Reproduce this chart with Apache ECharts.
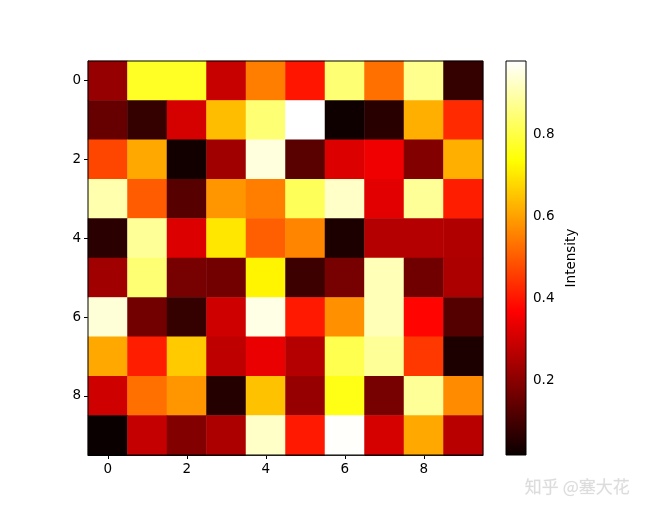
<!DOCTYPE html>
<html>
<head>
<meta charset="utf-8">
<script src="https://cdn.jsdelivr.net/npm/echarts@6/dist/echarts.min.js"></script>
<style>html,body{margin:0;padding:0;background:#fff}#c{width:646px;height:511px}</style>
</head>
<body>
<div id="c"></div>
<script>
const xCategories = ['0','1','2','3','4','5','6','7','8','9'];
const yCategories = ['0','1','2','3','4','5','6','7','8','9'];
const row0 = [0.22, 0.77, 0.77, 0.29, 0.55, 0.40, 0.845, 0.53, 0.87, 0.08];
const row1 = [0.15, 0.08, 0.31, 0.64, 0.845, 0.978, 0.025, 0.063, 0.62, 0.43];
const row2 = [0.47, 0.61, 0.03, 0.235, 0.945, 0.133, 0.32, 0.348, 0.19, 0.62];
const row3 = [0.90, 0.50, 0.13, 0.585, 0.55, 0.82, 0.925, 0.33, 0.88, 0.41];
const row4 = [0.065, 0.88, 0.32, 0.70, 0.505, 0.56, 0.045, 0.263, 0.263, 0.258];
const row5 = [0.235, 0.845, 0.176, 0.17, 0.72, 0.09, 0.176, 0.91, 0.165, 0.25];
const row6 = [0.94, 0.17, 0.08, 0.30, 0.955, 0.406, 0.577, 0.91, 0.375, 0.125];
const row7 = [0.61, 0.41, 0.66, 0.277, 0.34, 0.263, 0.81, 0.88, 0.45, 0.045];
const row8 = [0.30, 0.53, 0.585, 0.058, 0.647, 0.22, 0.754, 0.176, 0.88, 0.57];
const row9 = [0.02, 0.285, 0.19, 0.25, 0.925, 0.405, 0.975, 0.31, 0.61, 0.27];
const colorbarTicks = [0.2, 0.4, 0.6, 0.8];
const vMin = 0.02, vMax = 0.978;

const rows = [row0,row1,row2,row3,row4,row5,row6,row7,row8,row9];
const data = [];
rows.forEach((r, y) => r.forEach((v, x) => data.push([x, y, v])));

// matplotlib 'hot' colormap
function hot(t){
  let r, g, b;
  r = t < 0.365079 ? 0.0416 + (1 - 0.0416) * t / 0.365079 : 1;
  g = t < 0.365079 ? 0 : (t < 0.746032 ? (t - 0.365079) / (0.746032 - 0.365079) : 1);
  b = t < 0.746032 ? 0 : (t - 0.746032) / (1 - 0.746032);
  const h = c => Math.round(Math.max(0, Math.min(1, c)) * 255).toString(16).padStart(2, '0');
  return '#' + h(r) + h(g) + h(b);
}
const N = 128;
const cmap = [];
const stops = [];
for (let i = 0; i <= N; i++) { cmap.push(hot(i / N)); stops.push({offset: i / N, color: hot(i / N)}); }

const chart = echarts.init(document.getElementById('c'));
const font = 'DejaVu Sans';
const fs = 13.5;
chart.setOption({
  animation: false,
  backgroundColor: '#fff',
  textStyle: {fontFamily: font},
  grid: [
    {left: 88, top: 61, width: 395, height: 394, show: true, borderColor: '#000', borderWidth: 1, backgroundColor: 'transparent', z: 10},
    {left: 506, top: 61, width: 20, height: 394, show: true, borderColor: '#000', borderWidth: 1, z: 10}
  ],
  xAxis: [
    {type: 'category', gridIndex: 0, data: xCategories, position: 'bottom',
     axisLine: {show: true, lineStyle: {color: '#000', width: 1}},
     axisTick: {show: true, interval: 1, alignWithLabel: true, length: 4, lineStyle: {color: '#000'}},
     axisLabel: {interval: 1, color: '#000', fontSize: fs, fontFamily: font, margin: 7},
     splitLine: {show: false}},
    {type: 'value', gridIndex: 1, min: 0, max: 1, show: false}
  ],
  yAxis: [
    {type: 'category', gridIndex: 0, data: yCategories, inverse: true,
     axisLine: {show: true, lineStyle: {color: '#000', width: 1}},
     axisTick: {show: true, interval: 1, alignWithLabel: true, length: 4, lineStyle: {color: '#000'}},
     axisLabel: {interval: 1, color: '#000', fontSize: fs, fontFamily: font, margin: 7},
     splitLine: {show: false}},
    {type: 'value', gridIndex: 1, min: vMin, max: vMax, position: 'right',
     axisLine: {show: false},
     axisTick: {show: true, customValues: colorbarTicks, length: 4, lineStyle: {color: '#000'}},
     axisLabel: {customValues: colorbarTicks, color: '#000', fontSize: fs, fontFamily: font, margin: 7,
                 formatter: v => v.toFixed(1)},
     splitLine: {show: false},
     name: 'Intensity', nameLocation: 'middle', nameRotate: 90, nameGap: 38,
     nameTextStyle: {color: '#000', fontSize: fs, fontFamily: font}}
  ],
  visualMap: {show: false, type: 'continuous', seriesIndex: 0, min: vMin, max: vMax, dimension: 2,
              inRange: {color: cmap}},
  series: [
    {type: 'heatmap', xAxisIndex: 0, yAxisIndex: 0, data: data, itemStyle: {borderWidth: 0}, emphasis: {disabled: true}},
    {type: 'custom', xAxisIndex: 1, yAxisIndex: 1, data: [[0, 1, vMin, vMax]],
     renderItem: function(params, api){
       const p1 = api.coord([api.value(0), api.value(3)]);
       const p2 = api.coord([api.value(1), api.value(2)]);
       return {type: 'rect', shape: {x: p1[0], y: p1[1], width: p2[0] - p1[0], height: p2[1] - p1[1]},
               style: {fill: new echarts.graphic.LinearGradient(0, 1, 0, 0, stops)}};
     }}
  ],
  graphic: [
    {type: 'text', right: 16, bottom: 16, style: {text: '知乎 @塞大花', fill: '#dcdcdc', fontSize: 17,
      fontFamily: 'Noto Sans CJK SC', stroke: '#f2f2f2', lineWidth: 0.5}}
  ]
});
</script>
</body>
</html>
